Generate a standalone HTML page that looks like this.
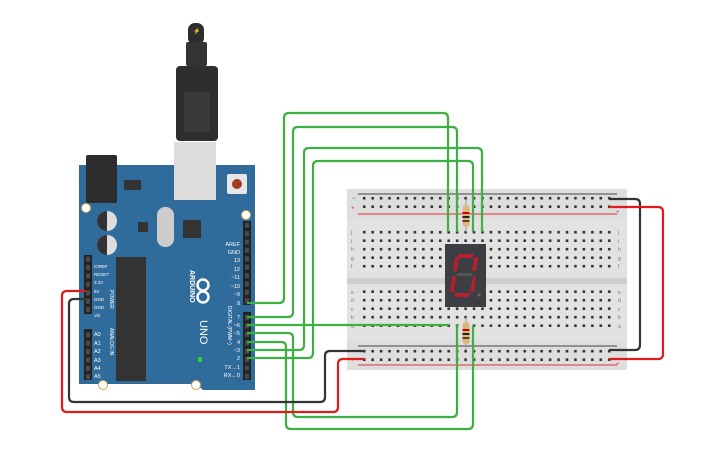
<!DOCTYPE html>
<html><head><meta charset="utf-8"><style>
html,body{margin:0;padding:0;background:#fff;}
svg{display:block;font-family:"Liberation Sans",sans-serif;}
</style></head><body>
<svg width="725" height="453" viewBox="0 0 725 453" xmlns="http://www.w3.org/2000/svg">
<defs>
<pattern id="holes" x="360" y="228" width="8.45" height="8.5" patternUnits="userSpaceOnUse">
<rect x="2.9" y="2.9" width="2.6" height="2.6" fill="#333"/></pattern>
<pattern id="pins" x="243" y="221" width="8" height="8.4" patternUnits="userSpaceOnUse">
<rect x="0" y="0" width="8" height="8.4" fill="#222"/><rect x="2" y="1.7" width="4" height="5" fill="#4a4a4a"/></pattern>
<pattern id="lpins" x="84" y="255" width="8" height="8.4" patternUnits="userSpaceOnUse">
<rect x="0" y="0" width="8" height="8.4" fill="#222"/><rect x="2" y="1.7" width="4" height="5" fill="#4a4a4a"/></pattern>
</defs>

<!-- breadboard -->
<rect x="347" y="189" width="280" height="181" rx="3" fill="#e2e2e2"/>
<rect x="347" y="189" width="280" height="30" fill="#dedede"/>
<rect x="347" y="340" width="280" height="30" fill="#dedede"/>
<rect x="347" y="278" width="280" height="6" fill="#cfcfcf"/>
<line x1="358" y1="194" x2="617" y2="194" stroke="#444" stroke-width="1"/>
<line x1="358" y1="214" x2="617" y2="214" stroke="#d33" stroke-width="1"/>
<line x1="358" y1="346" x2="617" y2="346" stroke="#444" stroke-width="1"/>
<line x1="358" y1="365" x2="617" y2="365" stroke="#d33" stroke-width="1"/>
<rect x="360" y="195" width="253" height="16" fill="url(#holes)"/>
<rect x="360" y="228" width="253" height="42" fill="url(#holes)"/>
<rect x="360" y="288" width="253" height="42" fill="url(#holes)"/>
<rect x="360" y="346" width="253" height="17" fill="url(#holes)"/>
<g font-size="6" fill="#444">
<text x="352" y="200">−</text><text x="351" y="210" fill="#d33">+</text>
<text x="617" y="200">−</text><text x="616" y="214" fill="#d33">+</text>
<text x="352" y="352">−</text><text x="351" y="362" fill="#d33">+</text>
<text x="617" y="352">−</text><text x="616" y="366" fill="#d33">+</text>
</g>
<g font-size="5" fill="#777">
<text x="351" y="234">j</text><text x="351" y="243">i</text><text x="351" y="251">h</text><text x="351" y="260">g</text><text x="351" y="268">f</text>
<text x="351" y="294">e</text><text x="351" y="302">d</text><text x="351" y="311">c</text><text x="351" y="319">b</text><text x="351" y="328">a</text>
<text x="618" y="234">j</text><text x="618" y="243">i</text><text x="618" y="251">h</text><text x="618" y="260">g</text><text x="618" y="268">f</text>
<text x="618" y="294">e</text><text x="618" y="302">d</text><text x="618" y="311">c</text><text x="618" y="319">b</text><text x="618" y="328">a</text>
</g>

<!-- 7 seg display -->
<rect x="445" y="244" width="41" height="63" fill="#3b3e42"/>
<g fill="#b5202e">
<path d="M458 254 L474 254 L472 258 L458 258Z"/>
<path d="M474 257 L478 257 L476 271 L472 271Z"/>
<path d="M473 276 L476 276 L474 292 L470 292Z"/>
<path d="M455 293 L470 293 L468 297 L454 297Z"/>
<path d="M452 276 L456 276 L454 292 L450 292Z"/>
<path d="M455 257 L459 257 L457 271 L453 271Z"/>
</g>
<rect x="457" y="273" width="15" height="3" fill="#555"/>
<circle cx="479" cy="295" r="1.6" fill="#666"/>

<!-- resistors -->
<g>
<line x1="466" y1="199" x2="466" y2="232" stroke="#999" stroke-width="1"/>
<rect x="462.5" y="205" width="7" height="22" rx="3" fill="#d9b97a"/>
<rect x="462.5" y="212" width="7" height="2" fill="#c00"/>
<rect x="462.5" y="216" width="7" height="2" fill="#222"/>
<rect x="462.5" y="220" width="7" height="2" fill="#6b3a1a"/>
<line x1="466" y1="317" x2="466" y2="350" stroke="#999" stroke-width="1"/>
<rect x="462.5" y="322" width="7" height="22" rx="3" fill="#d9b97a"/>
<rect x="462.5" y="329" width="7" height="2" fill="#c00"/>
<rect x="462.5" y="333" width="7" height="2" fill="#222"/>
<rect x="462.5" y="337" width="7" height="2" fill="#6b3a1a"/>
</g>

<!-- USB cable -->
<rect x="188" y="23" width="16" height="22" rx="7" fill="#2d2d2d"/>
<text x="193" y="33" font-size="6" fill="#f5c400">⚡</text>
<rect x="186" y="42" width="21" height="24" rx="2" fill="#333"/>
<rect x="176" y="66" width="42" height="75" rx="4" fill="#2e2e2e"/>
<rect x="184" y="92" width="26" height="40" fill="#3a3a3a"/>
<rect x="176" y="142" width="40" height="58" fill="#dcdcdc"/>

<!-- Arduino board -->
<path d="M79 165 L255 165 L255 390 L203 390 L196 384 L79 384Z" fill="#2f6b9b"/>
<rect x="86" y="155" width="31" height="48" rx="2" fill="#2b2c2e"/>
<rect x="174" y="142" width="42" height="58" fill="#dcdcdc"/>
<rect x="124" y="180" width="17" height="10" fill="#333"/>
<rect x="227" y="174" width="20" height="20" rx="2" fill="#e6e6e6"/>
<circle cx="237" cy="184" r="5" fill="#a43a22"/>
<circle cx="86" cy="208" r="4.5" fill="#fff" stroke="#c9a94d"/>
<circle cx="246" cy="215" r="4.5" fill="#fff" stroke="#c9a94d"/>
<circle cx="103" cy="385" r="4.5" fill="#fff" stroke="#c9a94d"/>
<circle cx="196" cy="385" r="4.5" fill="#fff" stroke="#c9a94d"/>
<circle cx="107" cy="221" r="10" fill="#ddd"/><path d="M107 211 A10 10 0 0 0 107 231Z" fill="#333"/>
<circle cx="107" cy="245" r="10" fill="#ddd"/><path d="M107 235 A10 10 0 0 0 107 255Z" fill="#333"/>
<rect x="157" y="207" width="17" height="40" rx="8" fill="#ccc"/>
<rect x="138" y="222" width="10" height="10" fill="#333"/>
<rect x="183" y="220" width="18" height="18" fill="#333"/>
<rect x="116" y="257" width="30" height="124" fill="#333"/>
<rect x="84" y="255" width="8" height="59" fill="url(#lpins)"/>
<rect x="84" y="329" width="8" height="51" fill="url(#lpins)"/>
<rect x="243" y="221" width="8" height="84" fill="url(#pins)"/>
<rect x="243" y="312" width="8" height="68" fill="url(#pins)"/>
<g fill="#fff" font-size="5.5" text-anchor="end">
<text x="240" y="246">AREF</text><text x="240" y="254">GND</text><text x="240" y="262">13</text><text x="240" y="271">12</text>
<text x="240" y="279">~11</text><text x="240" y="288">~10</text><text x="240" y="296">~9</text><text x="240" y="305">8</text>
<text x="240" y="319">7</text><text x="240" y="327">~6</text><text x="240" y="335">~5</text><text x="240" y="344">4</text>
<text x="240" y="352">~3</text><text x="240" y="360">2</text><text x="240" y="369">TX→1</text><text x="240" y="377">RX←0</text>
</g>
<g fill="#fff" font-size="4.5">
<text x="94" y="268">IOREF</text><text x="94" y="276">RESET</text><text x="94" y="284">3.3V</text><text x="94" y="293">5V</text>
<text x="94" y="301">GND</text><text x="94" y="309">GND</text><text x="94" y="317">Vin</text>
<text x="94" y="336" font-size="5.5">A0</text><text x="94" y="345" font-size="5.5">A1</text><text x="94" y="353" font-size="5.5">A2</text>
<text x="94" y="362" font-size="5.5">A3</text><text x="94" y="370" font-size="5.5">A4</text><text x="94" y="378" font-size="5.5">A5</text>
</g>
<g fill="#fff">
<text font-size="7" font-weight="bold" transform="translate(190,270) rotate(90)">ARDUINO</text>
<circle cx="203" cy="285" r="5.5" fill="none" stroke="#fff" stroke-width="2.5"/>
<circle cx="203" cy="297" r="5.5" fill="none" stroke="#fff" stroke-width="2.5"/>
<text font-size="11" transform="translate(200,320) rotate(90)">UNO</text>
<text font-size="5" transform="translate(228,306) rotate(90)">DIGITAL (PWM~)</text>
<text font-size="5" transform="translate(110,328) rotate(90)">ANALOG IN</text>
<text font-size="5" transform="translate(110,290) rotate(90)">POWER</text>
</g>
<rect x="198" y="357" width="4" height="5" fill="#3c3"/>

<!-- wires -->
<g fill="none" stroke-width="2.2" stroke-linejoin="round">
<path d="M247 303 H279 Q284 303 284 298 V118 Q284 113 289 113 H443 Q448 113 448 118 V232" stroke="#3cb043"/>
<path d="M247 317 H288 Q293 317 293 312 V132 Q293 127 298 127 H452 Q457 127 457 132 V232" stroke="#3cb043"/>
<path d="M247 350 H299 Q304 350 304 345 V153 Q304 148 309 148 H477 Q482 148 482 153 V232" stroke="#3cb043"/>
<path d="M247 358 H308 Q313 358 313 353 V166 Q313 161 318 161 H468 Q473 161 473 166 V232" stroke="#3cb043"/>
<path d="M247 325 H449" stroke="#3cb043"/>
<path d="M247 333 H288 Q293 333 293 338 V412 Q293 417 298 417 H452 Q457 417 457 412 V325" stroke="#3cb043"/>
<path d="M247 342 H281 Q286 342 286 347 V424 Q286 429 291 429 H468 Q473 429 473 424 V325" stroke="#3cb043"/>
<path d="M86 299 H74 Q69 299 69 304 V397 Q69 402 74 402 H320 Q325 402 325 397 V356 Q325 351 330 351 H365" stroke="#333"/>
<path d="M86 291 H67 Q62 291 62 296 V407 Q62 412 67 412 H333 Q338 412 338 407 V364 Q338 359 343 359 H365" stroke="#e01b1b"/>
<path d="M609 199 H635 Q640 199 640 204 V345 Q640 350 635 350 H609" stroke="#333"/>
<path d="M609 207 H658 Q663 207 663 212 V354 Q663 359 658 359 H609" stroke="#e01b1b"/>
</g>
</svg>
</body></html>
